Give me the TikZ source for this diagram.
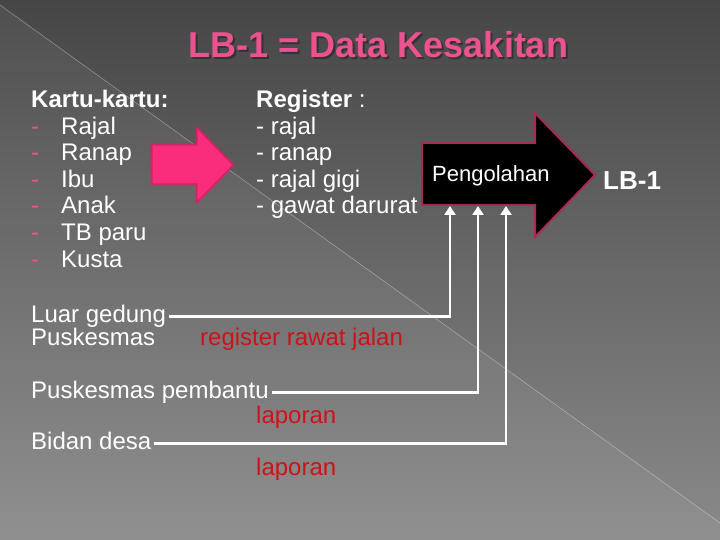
\documentclass[tikz,border=0pt]{standalone}
\usepackage{fontspec}
\setmainfont{Liberation Sans}
\usetikzlibrary{arrows.meta}

\definecolor{titlepink}{RGB}{236,82,142}
\definecolor{hotpink}{RGB}{250,45,125}
\definecolor{rimpink}{RGB}{222,30,100}
\definecolor{rimred}{RGB}{170,40,85}
\definecolor{labelred}{RGB}{205,18,24}
\definecolor{bgtop}{RGB}{70,70,70}
\definecolor{bgbot}{RGB}{138,138,138}

\newcommand{\shadowtext}[1]{\rlap{\hspace{2pt}\raisebox{-2pt}{\textcolor{black!80}{#1}}}\textcolor{titlepink}{#1}}

\tikzset{
  txt/.style={anchor=base west,inner sep=0pt,text=white,font=\fontsize{24}{28}\selectfont},
  note/.style={txt,text=labelred},
  feed/.style={draw=white,line width=2.6pt,-{Triangle[width=11pt,length=9pt]}},
  heading/.style={anchor=base,font=\bfseries\fontsize{36}{40}\selectfont},
}

\begin{document}
\begin{tikzpicture}[x=1pt,y=-1pt]
  \useasboundingbox (0,0) rectangle (720,540);
  % background
  \shade[top color=bgtop,bottom color=bgbot] (0,0) rectangle (720,540);
  \fill[white,opacity=.05] (0,5) -- (720,523) -- (720,540) -- (0,540) -- cycle;
  \draw[white,opacity=.35,line width=.6pt] (0,5) -- (720,523);

  % title
  \node[heading] (title) at (378.5,58) {\shadowtext{LB-1 = Data Kesakitan}};

  % kartu
  \node[txt,font=\bfseries\fontsize{24}{28}\selectfont] (kartu) at (31,108) {Kartu-kartu:};
  \foreach \name [count=\i] in {Rajal,Ranap,Ibu,Anak,TB paru,Kusta} {
    \node[txt,text=titlepink] (dash\i) at (31,108+26.5*\i) {-};
    \node[txt] (kartu\i) at (61,108+26.5*\i) {\name};
  }

  % register
  \node[txt] (reg) at (256,108) {\textbf{Register} :};
  \foreach \name [count=\i] in {rajal,ranap,rajal gigi,gawat darurat}
    \node[txt] (reg\i) at (256,108+26.5*\i) {- \name};

  \draw[rimpink,opacity=.35,line width=4pt,line join=round]
    (152,145) -- (197,145) -- (197,128) -- (233,165) -- (197,202) -- (197,184) -- (152,184) -- cycle;
  \draw[fill=hotpink,draw=rimpink,line width=1.2pt]
    (152,145) -- (197,145) -- (197,128) -- (233,165) -- (197,202) -- (197,184) -- (152,184) -- cycle;

  % pengolahan
  \draw[fill=black,draw=rimred,line width=2pt]
    (422,143) -- (535,143) -- (535,113) -- (595,175) -- (535,237) -- (535,205) -- (422,205) -- cycle;
  \node[txt,font=\fontsize{22}{26}\selectfont] (proc) at (432,182) {Pengolahan};
  \node[txt,font=\bfseries\fontsize{26}{30}\selectfont] (lb) at (603,190) {LB-1};

  \coordinate (in1) at (450,206);
  \coordinate (in2) at (478,206);
  \coordinate (in3) at (506,206);

  % sumber data
  \node[txt] (luar) at (31,322) {Luar gedung};
  \node[txt] (luar2) at (31,345) {Puskesmas};
  \node[note] (rrj) at (200,345) {register rawat jalan};
  \node[txt] (pustu) at (31,398) {Puskesmas pembantu};
  \node[note] (lap1) at (256,423) {laporan};
  \node[txt] (bidan) at (31,449) {Bidan desa};
  \node[note] (lap2) at (256,475) {laporan};

  \foreach \from/\to in {luar/in1,pustu/in2,bidan/in3}
    \draw[feed] ([xshift=3pt,yshift=3pt]\from.mid east) -| (\to);

\end{tikzpicture}
\end{document}
